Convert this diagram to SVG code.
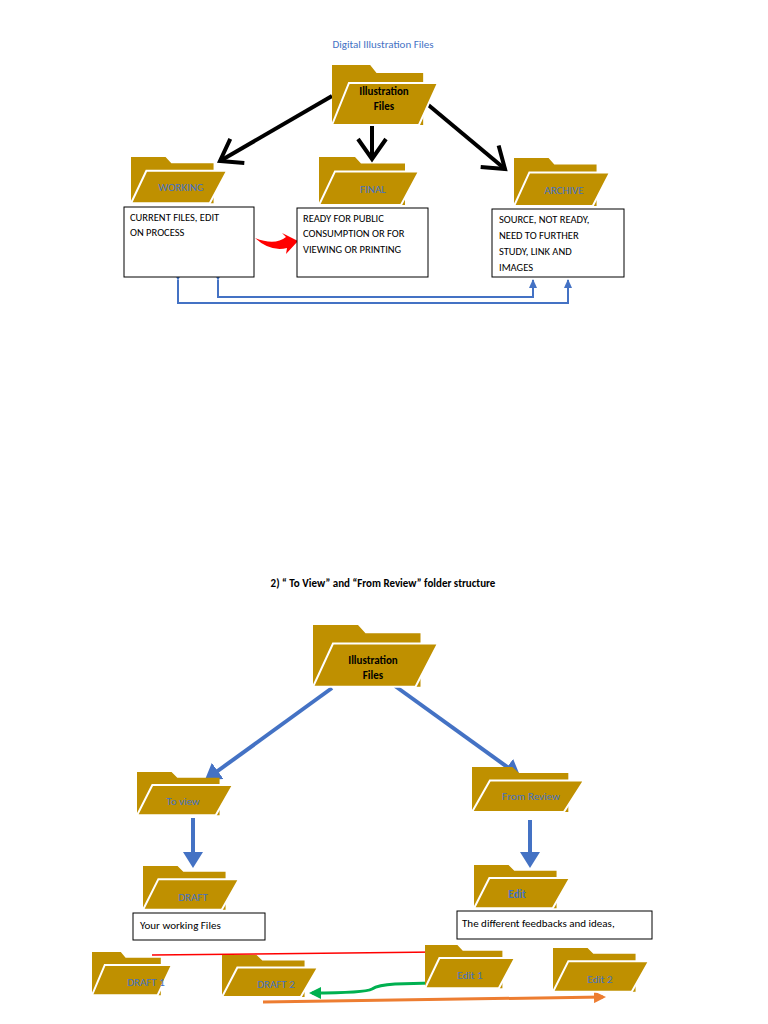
<svg xmlns="http://www.w3.org/2000/svg" width="768" height="1024" viewBox="0 0 768 1024">
<style>
text{font-family:Calibri,Carlito,"Liberation Sans",sans-serif}
.bk{fill:#bf9000}
.fr{fill:#bf9000;stroke:#fff;stroke-width:2;vector-effect:non-scaling-stroke}
.fl{fill:#4472c4;font-size:11px;text-anchor:middle}
.bx{fill:#fff;stroke:#000;stroke-width:1}
.bt{font-size:10.5px;fill:#000}
.blk{stroke:#000;stroke-width:4;fill:none;marker-end:url(#vb)}
.blu{stroke:#4472c4;stroke-width:2;fill:none}
.bl2{stroke:#4472c4;stroke-width:4;fill:none;marker-end:url(#tb)}
</style>
<defs>
<g id="fold"><path class="bk" d="M0,0H36L42,8H86V60H0Z"/><path class="fr" d="M16,18H100L82,60H0Z"/></g>
<marker id="vb" markerWidth="8" markerHeight="8" refX="6" refY="4" orient="auto" markerUnits="strokeWidth"><path d="M1,0.5L6,4L1,7.5" fill="none" stroke="#000" stroke-width="1"/></marker>
<marker id="tb" markerWidth="5" markerHeight="5" refX="3" refY="2.5" orient="auto" markerUnits="strokeWidth"><path d="M0,0L4,2.5L0,5Z" fill="#4472c4"/></marker>
<marker id="sb" markerWidth="10" markerHeight="10" refX="8" refY="5" orient="auto" markerUnits="userSpaceOnUse"><path d="M0,1L9,5L0,9Z" fill="#4472c4"/></marker>
<marker id="rb" markerWidth="8" markerHeight="8" refX="7" refY="4" orient="auto" markerUnits="userSpaceOnUse"><path d="M0,1L8,4L0,7Z" fill="#f00"/></marker>
<marker id="gb" markerWidth="4" markerHeight="4" refX="3" refY="2" orient="auto" markerUnits="strokeWidth"><path d="M0,0L4,2L0,4Z" fill="#00b050"/></marker>
<marker id="ob" markerWidth="4" markerHeight="4" refX="3" refY="2" orient="auto" markerUnits="strokeWidth"><path d="M0,0L4,2L0,4Z" fill="#ed7d31"/></marker>
</defs>
<text x="383" y="48" font-size="11" fill="#4472c4" text-anchor="middle">Digital Illustration Files</text>
<text x="383" y="587" font-size="11" font-weight="bold" text-anchor="middle">2) “ To View” and “From Review” folder structure</text>

<g id="connectors">
<path class="blk" d="M332,96L220,161"/>
<path class="blk" d="M372,124V159"/>
<path class="blk" d="M420,98L505,169"/>
<path d="M255,238Q275,246 286,237L282,233L298,241L286,254L287,248Q270,252 255,238Z" fill="#f00"/>
<path class="blu" d="M178,280V303H568V280" marker-start="url(#sb)" marker-end="url(#sb)"/>
<path class="blu" d="M218,280V297H533V280" marker-start="url(#sb)" marker-end="url(#sb)"/>
<path class="bl2" d="M332,688L208,778"/>
<path class="bl2" d="M395,686L517,774"/>
<path class="bl2" d="M193,818V864"/>
<path class="bl2" d="M530,820V864"/>
<path d="M152,955L437,952" stroke="#f00" stroke-width="1.5" fill="none" marker-end="url(#rb)"/>
<path d="M432,983L395,984Q378,985 372,989Q365,993 312,993" stroke="#00b050" stroke-width="3" fill="none" marker-end="url(#gb)"/>
<path d="M263,1002L603,997" stroke="#ed7d31" stroke-width="3" fill="none" marker-end="url(#ob)"/>
</g>

<g id="n-illus1"><use href="#fold" transform="translate(332,65) scale(1.06,1)"/><text x="384" y="95" font-size="11" font-weight="bold" text-anchor="middle">Illustration</text><text x="384" y="110" font-size="11" font-weight="bold" text-anchor="middle">Files</text></g>
<g id="n-working"><use href="#fold" transform="translate(131,157) scale(0.96,0.77)"/><text class="fl" x="181" y="191">WORKING</text></g>
<g id="n-final"><use href="#fold" transform="translate(319,157) scale(1,0.8)"/><text class="fl" x="373" y="193">FINAL</text></g>
<g id="n-archive"><use href="#fold" transform="translate(514,158) scale(0.96,0.8)"/><text class="fl" x="564" y="194">ARCHIVE</text></g>
<g id="b-working"><rect class="bx" x="124" y="207" width="130" height="70"/><text class="bt" x="130" y="221">CURRENT FILES, EDIT</text><text class="bt" x="130" y="236">ON PROCESS</text></g>
<g id="b-final"><rect class="bx" x="297" y="208" width="131" height="69"/><text class="bt" x="303" y="222">READY FOR PUBLIC</text><text class="bt" x="303" y="237">CONSUMPTION OR FOR</text><text class="bt" x="303" y="253">VIEWING OR PRINTING</text></g>
<g id="b-archive"><rect class="bx" x="492" y="209" width="132" height="68"/><text class="bt" x="499" y="223">SOURCE, NOT READY,</text><text class="bt" x="499" y="239">NEED TO FURTHER</text><text class="bt" x="499" y="255">STUDY, LINK AND</text><text class="bt" x="499" y="271">IMAGES</text></g>

<g id="n-illus2"><use href="#fold" transform="translate(313,625) scale(1.25,1.03)"/><text x="373" y="664" font-size="11" font-weight="bold" text-anchor="middle">Illustration</text><text x="373" y="679" font-size="11" font-weight="bold" text-anchor="middle">Files</text></g>
<g id="n-toview"><use href="#fold" transform="translate(137,772) scale(0.96,0.72)"/><text class="fl" x="183" y="805">To view</text></g>
<g id="n-fromreview"><use href="#fold" transform="translate(472,767) scale(1.12,0.75)"/><text class="fl" x="531" y="800">From Review</text></g>
<g id="n-draft"><use href="#fold" transform="translate(143,866) scale(0.96,0.73)"/><text class="fl" x="193" y="901">DRAFT</text></g>
<g id="n-edit"><use href="#fold" transform="translate(474,865) scale(0.96,0.72)"/><text class="fl" x="517" y="898" font-size="14" font-weight="bold">Edit</text></g>
<g id="b-draft"><rect class="bx" x="133" y="913" width="132" height="27"/><text x="140" y="929" font-size="11">Your working Files</text></g>
<g id="b-edit"><rect class="bx" x="457" y="911" width="195" height="28"/><text x="462" y="927" font-size="11">The different feedbacks and ideas,</text></g>
<g id="n-draft1"><use href="#fold" transform="translate(92,952) scale(0.8,0.72)"/><text class="fl" x="146" y="986">DRAFT 1</text></g>
<g id="n-draft2"><use href="#fold" transform="translate(222,955) scale(0.96,0.7)"/><text class="fl" x="276" y="988">DRAFT 2</text></g>
<g id="n-edit1"><use href="#fold" transform="translate(425,945) scale(0.9,0.72)"/><text class="fl" x="470" y="979">Edit 1</text></g>
<g id="n-edit2"><use href="#fold" transform="translate(553,948) scale(0.96,0.73)"/><text class="fl" x="600" y="983">Edit 2</text></g>
</svg>
